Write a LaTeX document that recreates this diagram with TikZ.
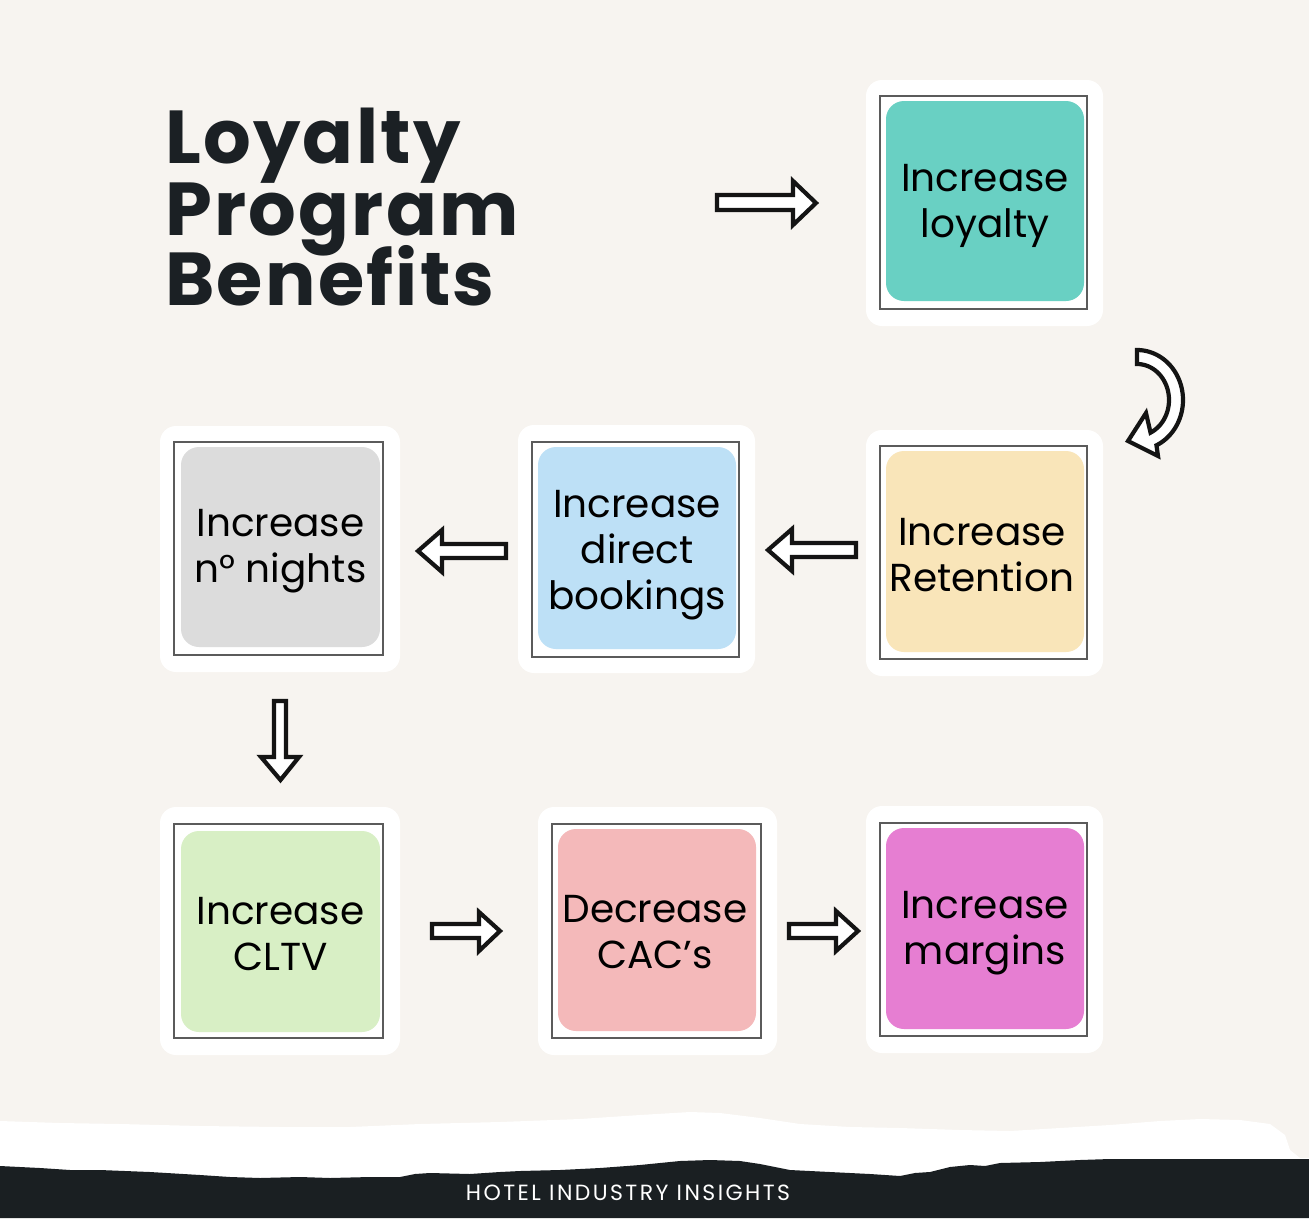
\documentclass[tikz,border=0pt]{standalone}
\usepackage{fontspec}
\setmainfont{Poppins}
\newfontfamily\titlefont[LetterSpace=3]{Poppins}
\newfontfamily\boxfont{Poppins}
\newfontfamily\footfont[LetterSpace=11]{Poppins}
\definecolor{bgc}{HTML}{F7F4F0}
\definecolor{cLoyal}{HTML}{69D0C3}
\definecolor{cRet}{HTML}{F9E5B9}
\definecolor{cDirect}{HTML}{BDE0F6}
\definecolor{cNights}{HTML}{DCDCDC}
\definecolor{cCLTV}{HTML}{D8EFC5}
\definecolor{cCAC}{HTML}{F4B9BA}
\definecolor{cMarg}{HTML}{E67ED2}
\definecolor{titlec}{HTML}{1B2024}
\definecolor{footc}{HTML}{1A1F22}
\definecolor{grayb}{HTML}{5B5B5B}
\tikzset{
  card/.style={fill=white, rounded corners=16pt},
  frame/.style={draw=grayb, line width=2.6pt, fill=white},
  colbox/.style={rounded corners=18pt, align=center, inner sep=0pt,
    font=\boxfont\fontsize{39}{46}\selectfont, text=black},
  boxtext/.style={align=center, inner sep=0pt, text=black,
    font=\boxfont\fontsize{39}{46}\selectfont},
  barrow/.style={draw=black!92, fill=white, line width=4.2pt, line join=miter, miter limit=10},
  titletext/.style={anchor=base west, inner sep=0pt, text=titlec,
    font=\titlefont\bfseries\fontsize{75}{75}\selectfont},
}
\begin{document}
\begin{tikzpicture}[x=1pt,y=-1pt]
\useasboundingbox (0,0) rectangle (1309,1218);
\fill[bgc] (0,0) rectangle (1309,1218);

% title
\node[titletext] (t1) at (165,163) {Loyalty};
\node[titletext] (t2) at (165,235) {Program};
\node[titletext] (t3) at (165,305) {Benefits};

% cards
% 1 loyalty
\fill[card] (866,80) rectangle (1103,326);
\draw[frame] (880,96) rectangle (1087,309);
\node[colbox, fill=cLoyal, minimum width=198pt, minimum height=200pt] (loyalty) at (985,201) {};
\node[boxtext] (loyaltyT) at (985,206) {Increase\\loyalty};
% 2 retention
\fill[card] (866,430) rectangle (1103,676);
\draw[frame] (880,446) rectangle (1087,659);
\node[colbox, fill=cRet, minimum width=198pt, minimum height=201pt] (retention) at (985,551.5) {};
\node[boxtext] (retentionT) at (982,555) {Increase\\Retention};
% 3 direct
\fill[card] (518,425) rectangle (755,673);
\draw[frame] (532,442) rectangle (739,657);
\node[colbox, fill=cDirect, minimum width=198pt, minimum height=202pt] (direct) at (637,548) {};
\node[boxtext] (directT) at (637,555) {Increase\\direct\\bookings};
% 4 nights
\fill[card] (160,426) rectangle (400,672);
\draw[frame] (174,442) rectangle (383,655);
\node[colbox, fill=cNights, minimum width=199pt, minimum height=200pt] (nights) at (280.5,547) {};
\node[boxtext] (nightsT) at (280.5,551) {Increase\\n° nights};
% 5 CLTV
\fill[card] (160,807) rectangle (400,1055);
\draw[frame] (174,824) rectangle (383,1038);
\node[colbox, fill=cCLTV, minimum width=199pt, minimum height=201pt] (cltv) at (280.5,931.5) {};
\node[boxtext] (cltvT) at (280.5,934) {Increase\\CLTV};
% 6 CAC
\fill[card] (538,807) rectangle (777,1055);
\draw[frame] (552,824) rectangle (761,1038);
\node[colbox, fill=cCAC, minimum width=198pt, minimum height=202pt] (cac) at (657,930) {};
\node[boxtext] (cacT) at (655,932) {Decrease\\CAC’s};
% 7 margins
\fill[card] (866,806) rectangle (1103,1053);
\draw[frame] (880,823) rectangle (1087,1036);
\node[colbox, fill=cMarg, minimum width=198pt, minimum height=201pt] (margins) at (985,928.5) {};
\node[boxtext] (marginsT) at (985,933) {Increase\\margins};

% block arrows
\draw[barrow] (717,195) -- (793,195) -- (793,181) -- (816,203) -- (793,225) -- (793,210) -- (717,210) -- cycle;
\draw[barrow] (856,543) -- (792,543) -- (792,529) -- (768,550) -- (792,571) -- (792,557) -- (856,557) -- cycle;
\draw[barrow] (506,544) -- (442,544) -- (442,530) -- (418,551) -- (442,572) -- (442,558) -- (506,558) -- cycle;
\draw[barrow] (274,701) -- (286,701) -- (286,757) -- (299,757) -- (280.5,780) -- (261,757) -- (274,757) -- cycle;
\draw[barrow] (432,924) -- (479,924) -- (479,912) -- (500,931) -- (479,951) -- (479,938) -- (432,938) -- cycle;
\draw[barrow] (789,924) -- (836,924) -- (836,911) -- (858,931) -- (836,951) -- (836,938) -- (789,938) -- cycle;
% curved arrow
\draw[barrow] plot[domain=-90:65, samples=50] ({1137+46*cos(\x)},{400+50*sin(\x)})
  -- (1158,456) -- (1128,441) -- (1146,413)
  -- plot[domain=65:-90, samples=50] ({1137+32*cos(\x)},{400+36*sin(\x)}) -- cycle;

% torn footer
\fill[white] (0,1121) -- (60,1123) -- (120,1124) -- (200,1126) -- (280,1127) -- (350,1127) -- (420,1124) -- (500,1122) -- (580,1119) -- (640,1115) -- (690,1112) -- (720,1113) -- (760,1118) -- (800,1124) -- (850,1127) -- (900,1128) -- (960,1130) -- (1010,1131) -- (1060,1128) -- (1110,1125) -- (1160,1121) -- (1200,1119) -- (1240,1120) -- (1270,1124) -- (1285,1135) -- (1290,1150) -- (1300,1158) -- (1309,1158) -- (1309,1218) -- (0,1218) -- cycle;
\fill[footc] (0,1166) -- (20,1167) -- (40,1168) -- (70,1170) -- (100,1170) -- (150,1172) -- (200,1175) -- (230,1177) -- (260,1178) -- (300,1177) -- (330,1178) -- (370,1177) -- (400,1177) -- (415,1174) -- (430,1173) -- (470,1174) -- (500,1172) -- (520,1171) -- (560,1170) -- (600,1168) -- (640,1165) -- (680,1161) -- (710,1160) -- (740,1161) -- (760,1164) -- (790,1170) -- (830,1172) -- (870,1174) -- (900,1176) -- (915,1173) -- (930,1172) -- (950,1167) -- (970,1165) -- (985,1166) -- (1000,1163) -- (1040,1162) -- (1080,1160) -- (1110,1159) -- (1309,1159) -- (1309,1218) -- (0,1218) -- cycle;
\node[text=white, font=\footfont\fontsize{22}{22}\selectfont, inner sep=0pt] (footer) at (628,1193) {HOTEL INDUSTRY INSIGHTS};
\end{tikzpicture}
\end{document}
